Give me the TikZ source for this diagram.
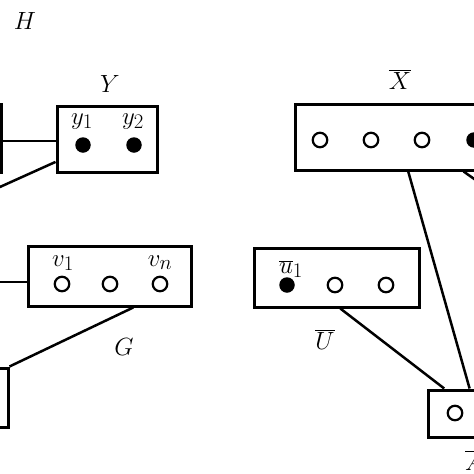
\documentclass[tikz,border=0pt]{standalone}
\begin{document}
\begin{tikzpicture}[x=1pt,y=-1pt,
  box/.style={draw, line width=3pt, rectangle, inner sep=0pt},
  edge/.style={line width=2.5pt},
  vtx/.style={circle, draw, line width=2.2pt, minimum size=14.5pt, inner sep=0pt},
  fvtx/.style={circle, fill, minimum size=15.5pt, inner sep=0pt},
  lbl/.style={anchor=base, inner sep=0pt, font=\fontsize{31}{36}\selectfont}]
\clip (0,0) rectangle (474,474);
% boxes
\node[box, minimum width=100pt, minimum height=66pt] (Yb) at (107,139) {};
\node[box, minimum width=325pt, minimum height=66pt] (Xb) at (457.5,137) {};
\node[box, minimum width=163pt, minimum height=60pt] (Gb) at (109.5,276) {};
\node[box, minimum width=165pt, minimum height=59pt] (Ub) at (336.5,277.5) {};
\node[box, minimum width=92pt, minimum height=47pt] (Zb) at (474,413.5) {};
\node[box, minimum width=101.5pt, minimum height=68pt] (Lb1) at (-49.25,138) {};
\node[box, minimum width=108pt, minimum height=59pt] (Lb2) at (-46,397.5) {};
% vertices
\node[fvtx] (y1) at (83,145) {};
\node[fvtx] (y2) at (134,145) {};
\node[vtx] (x1) at (320,140) {};
\node[vtx] (x2) at (371,140) {};
\node[vtx] (x3) at (422,140) {};
\node[fvtx] (x4) at (474,140) {};
\node[vtx] (v1) at (62,284) {};
\node[vtx] (v2) at (110,284) {};
\node[vtx] (vn) at (160,284) {};
\node[fvtx] (u1) at (287,285) {};
\node[vtx] (u2) at (335,285) {};
\node[vtx] (u3) at (386,285) {};
\node[vtx] (z1) at (455,413) {};
% labels
\node[lbl] (H) at (25,29) {$H$};
\node[lbl] (Y) at (110,92) {$Y$};
\node[lbl] (Xl) at (400,89) {$\overline{X}$};
\node[lbl] (ly1) at (82,124) {$y_1$};
\node[lbl] (ly2) at (133,124) {$y_2$};
\node[lbl] (lv1) at (63,266) {$v_1$};
\node[lbl] (lvn) at (160,266) {$v_n$};
\node[lbl] (G) at (124,355) {$G$};
\node[lbl] (lu1) at (291,273) {$\overline{u}_1$};
\node[lbl] (Ul) at (325,349) {$\overline{U}$};
\node[lbl, anchor=base west] (Zl) at (465,470) {$\overline{A}$};
% connectors
\coordinate (c1) at (-60,214);
\coordinate (gl) at (-10,282);
\coordinate (xr) at (514,207);
\draw[edge] (Yb.182) -- (Yb.182 -| Lb1.east);
\draw[edge] (Yb.204) -- (c1);
\draw[edge] (gl -| Gb.west) -- (gl);
\draw[edge] (Gb.307) -- (Lb2.north east);
\draw[edge] (Ub.277) -- (Zb.140);
\draw[edge] (Xb.215) -- (Zb.100);
\draw[edge] (Xb.280) -- (xr);
\end{tikzpicture}
\end{document}
